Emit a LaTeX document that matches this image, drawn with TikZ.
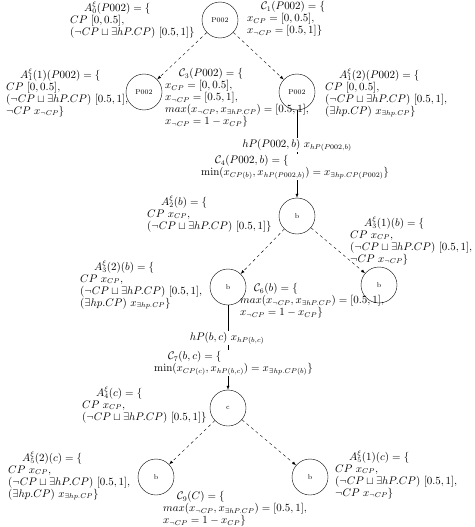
\documentclass[tikz,border=0pt]{standalone}
\usepackage{amsmath,amssymb}
\usetikzlibrary{arrows}
\newcommand{\firstind}{\hspace*{14pt}}

\begin{document}
\begin{tikzpicture}[x=1pt,y=-1pt,>=latex,
    state node/.style={circle,draw,minimum size=36pt,inner sep=0pt,font=\scriptsize},
    info node/.style={anchor=north west,align=left,inner sep=0pt,font=\fontsize{10.5}{12}\selectfont},
    link node/.style={fill=white,inner sep=1pt,align=left,font=\fontsize{10.5}{12}\selectfont}]
    \useasboundingbox (0,0) rectangle (474,527);

    \node[state node] at (220, 20) (p0) {P002};
    \node[state node] at (144, 92) (p1) {P002};
    \node[state node] at (297, 92) (p2) {P002};
    \node[state node] at (297, 216) (b0) {b};
    \node[state node] at (228, 287) (b1) {b};
    \node[state node] at (379, 285) (b2) {b};
    \node[state node] at (228, 408) (c0) {c};
    \node[state node] at (156, 477) (b3) {b};
    \node[state node] at (310, 477) (b4) {b};

    \path[->]
        (p0) edge[dashed] (p1)
        (p0) edge[dashed] (p2)
        (p2) edge (b0)
        (b0) edge[dashed] (b1)
        (b0) edge[dashed] (b2)
        (b1) edge (c0)
        (c0) edge[dashed] (b3)
        (c0) edge[dashed] (b4)
        ;

    % labels on the role links
    \node[link node] at (297, 145) (hp1) {$hP(P002,b)\ x_{hP(P002,b)}$};
    \node[link node, anchor=north west] at (200, 154) (c4) {\firstind$\mathcal{C}_4(P002,b) = \{$\\ $\min(x_{CP(b)}, x_{hP(P002,b)}) = x_{\exists hp.CP(P002)}\}$};
    \node[link node] at (227, 338) (hp2) {$hP(b,c)\ x_{hP(b,c)}$};
    \node[link node, anchor=north west] at (153, 350) (c7) {\firstind$\mathcal{C}_7(b,c) = \{$\\ $\min(x_{CP(c)}, x_{hP(b,c)}) = x_{\exists hp.CP(b)}\}$};

    % constraint sets
    \node[info node] at (70, 1) (a0) {\firstind$A^{\xi}_{0}(P002) = \{$\\ $CP\ [0, 0.5],$\\ $(\neg CP \sqcup \exists hP.CP)\ [0.5, 1]\}$};
    \node[info node] at (247, 1) (c1) {\firstind$\mathcal{C}_1(P002) = \{$\\ $x_{CP} = [0, 0.5],$\\ $x_{\neg CP} = [0.5, 1]\}$};
    \node[info node] at (6, 68) (a1one) {\firstind$A^{\xi}_{1}(1)(P002) = \{$\\ $CP\ [0, 0.5],$\\ $(\neg CP \sqcup \exists hP.CP)\ [0.5, 1],$\\ $\neg CP\ x_{\neg CP}\}$};
    \node[info node] at (165, 68) (c3) {\firstind$\mathcal{C}_3(P002) = \{$\\ $x_{CP} = [0, 0.5],$\\ $x_{\neg CP} = [0.5, 1],$\\ $max(x_{\neg CP}, x_{\exists hP.CP}) = [0.5, 1],$\\ $x_{\neg CP} = 1 - x_{CP}\}$};
    \node[info node] at (325, 68) (a1two) {\firstind$A^{\xi}_{1}(2)(P002) = \{$\\ $CP\ [0, 0.5],$\\ $(\neg CP \sqcup \exists hP.CP)\ [0.5, 1],$\\ $(\exists hp.CP)\ x_{\exists hp.CP}\}$};
    \node[info node] at (147, 195) (a2) {\firstind$A^{\xi}_{2}(b) = \{$\\ $CP\ x_{CP},$\\ $(\neg CP \sqcup \exists hP.CP)\ [0.5, 1]\}$};
    \node[info node] at (350, 216) (a3one) {\firstind$A^{\xi}_{3}(1)(b) = \{$\\ $CP\ x_{CP},$\\ $(\neg CP \sqcup \exists hP.CP)\ [0.5, 1],$\\ $\neg CP\ x_{\neg CP}\}$};
    \node[info node] at (80, 260) (a3two) {\firstind$A^{\xi}_{3}(2)(b) = \{$\\ $CP\ x_{CP},$\\ $(\neg CP \sqcup \exists hP.CP)\ [0.5, 1],$\\ $(\exists hp.CP)\ x_{\exists hp.CP}\}$};
    \node[info node] at (240, 283) (c6) {\firstind$\mathcal{C}_6(b) = \{$\\ $max(x_{\neg CP}, x_{\exists hP.CP}) = [0.5, 1],$\\ $x_{\neg CP} = 1 - x_{CP}\}$};
    \node[info node] at (82, 386) (a4) {\firstind$A^{\xi}_{4}(c) = \{$\\ $CP\ x_{CP},$\\ $(\neg CP \sqcup \exists hP.CP)\ [0.5, 1]\}$};
    \node[info node] at (8, 451) (a5two) {\firstind$A^{\xi}_{5}(2)(c) = \{$\\ $CP\ x_{CP},$\\ $(\neg CP \sqcup \exists hP.CP)\ [0.5, 1],$\\ $(\exists hp.CP)\ x_{\exists hp.CP}\}$};
    \node[info node] at (335, 450) (a5one) {\firstind$A^{\xi}_{5}(1)(c) = \{$\\ $CP\ x_{CP},$\\ $(\neg CP \sqcup \exists hP.CP)\ [0.5, 1],$\\ $\neg CP\ x_{\neg CP}\}$};
    \node[info node] at (163, 491) (c9) {\firstind$\mathcal{C}_9(C) = \{$\\ $max(x_{\neg CP}, x_{\exists hP.CP}) = [0.5, 1],$\\ $x_{\neg CP} = 1 - x_{CP}\}$};
\end{tikzpicture}
\end{document}
